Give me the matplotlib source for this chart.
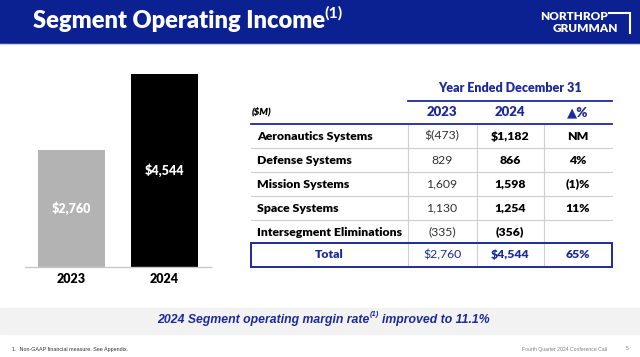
import matplotlib
matplotlib.use("Agg")
import matplotlib.pyplot as plt
from matplotlib.patches import Rectangle

# ---- data ----
bar_years = ["2023", "2024"]
bar_values = [2760, 4544]
bar_colors = ["#b3b3b3", "#000000"]

segments = ["Aeronautics Systems", "Defense Systems", "Mission Systems",
            "Space Systems", "Intersegment Eliminations"]
seg_2023 = [-473, 829, 1609, 1130, -335]
seg_2024 = [1182, 866, 1598, 1254, -356]
seg_pct = ["NM", "4%", "(1)%", "11%", ""]
total_2023 = 2760
total_2024 = 4544
total_pct = "65%"

BLUE = "#0b2191"
NAVY = "#1c2a9c"
FONT = ["Lato", "DejaVu Sans"]

W, H = 640, 357
fig = plt.figure(figsize=(W / 100, H / 100), dpi=100)
fig.patch.set_facecolor("white")

# full-figure axes in pixel coordinates for the slide decoration + table
bg = fig.add_axes([0, 0, 1, 1])
bg.set_xlim(0, W)
bg.set_ylim(H, 0)
bg.axis("off")

# header band
bg.add_patch(Rectangle((0, 0), W, 43, color=BLUE, zorder=1))
bg.plot([0, W], [43.5, 43.5], color="#d3d6e6", lw=1, zorder=1)
t = bg.text(33, 28.5, "Segment Operating Income", color="white", fontsize=17,
            fontweight="heavy", family=FONT, va="baseline", ha="left")
fig.canvas.draw()
bb = t.get_window_extent()
bg.text(bb.x1 - 1, 6, "(1)", color="white", fontsize=11.5, fontweight="bold",
        family=FONT, va="top", ha="left")

# logo
bg.text(608, 16, "NORTHROP", color="white", fontsize=8.5, fontweight="heavy",
        family=FONT, ha="right", va="center")
bg.text(618, 28, "GRUMMAN", color="white", fontsize=8.5, fontweight="heavy",
        family=FONT, ha="right", va="center")
bg.plot([609, 630, 630], [12.5, 12.5, 33], color="white", lw=1.5,
        solid_joinstyle="miter", zorder=5, clip_on=False)

# bottom message band
bg.add_patch(Rectangle((0, 308), W, 26, color="#f2f2f2", zorder=1))
MSG = dict(color=NAVY, fontweight="bold", style="italic",
           family="Liberation Sans", ha="left")
m = bg.text(157, 320, "2024 Segment operating margin rate", fontsize=8.8,
            va="center", **MSG)
fig.canvas.draw()
mb = m.get_window_extent()
s = bg.text(mb.x1 + 0.5, 315, "(1)", fontsize=5.5, va="center", **MSG)
fig.canvas.draw()
sb = s.get_window_extent()
bg.text(sb.x1 + 3, 320, "improved to 11.1%", fontsize=8.8, va="center", **MSG)

# footer
bg.text(12, 349, "1.  Non-GAAP financial measure. See Appendix.",
        color="#333333", fontsize=3.9, family="Liberation Sans",
        va="center", ha="left")
bg.text(607, 349, "Fourth Quarter 2024 Conference Call", color="#808080",
        fontsize=3.7, family="Liberation Sans", va="center", ha="right")
bg.text(627, 349, "5", color="#808080", fontsize=3.7,
        family="Liberation Sans", va="center", ha="center")

# ---- bar chart ----
base_px, ymax = 267, 5000
top_px = base_px - 193 * ymax / max(bar_values)
ax = fig.add_axes([25 / W, 1 - base_px / H, 186 / W, (base_px - top_px) / H])
x = range(len(bar_values))
ax.bar(x, bar_values, width=0.72, color=bar_colors)
ax.set_xlim(-0.5, 1.5)
ax.set_ylim(0, ymax)
for spine in ["top", "right", "left"]:
    ax.spines[spine].set_visible(False)
ax.spines["bottom"].set_color("#c8c8c8")
ax.spines["bottom"].set_linewidth(1)
ax.set_yticks([])
ax.set_xticks(list(x))
ax.set_xticklabels(bar_years, fontsize=9, fontweight="heavy", family=FONT)
ax.tick_params(axis="x", length=0, pad=4)
ax.patch.set_alpha(0)
for i, v in enumerate(bar_values):
    ax.text(i, v / 2, f"${v:,}", color="white", fontsize=9,
            fontweight="heavy", family=FONT, ha="center", va="center")

# ---- table ----
def fmt(v, dollar=False):
    s = f"{abs(v):,}"
    if v < 0:
        s = f"({s})"
    return ("$" + s) if dollar else s

col_left = 251
col_seps = [408, 477, 544]
col_right = 612
col_centers = [442, 510, 578]
row_y = [136, 160, 184, 208, 232]
row_lines = [148, 172, 196, 220]
header_y = 112
total_y = 255
FS = 8.8

bg.text(510, 88, "Year Ended December 31", color=NAVY, fontsize=9,
        fontweight="heavy", family=FONT, ha="center", va="center")
bg.plot([408, col_right], [101, 101], color=NAVY, lw=1.3)
bg.text(252, header_y, "($M)", color="black", fontsize=7, fontweight="heavy",
        style="italic", family=FONT, ha="left", va="center")
for cx, lab in zip(col_centers, ["2023", "2024", "\u25b2%"]):
    bg.text(cx, header_y, lab, color=NAVY, fontsize=9.5, fontweight="heavy",
            family=FONT, ha="center", va="center")
bg.plot([col_left, col_right], [124, 124], color=NAVY, lw=1.3)

for ly in row_lines:
    bg.plot([col_left, col_right], [ly, ly], color="#cfcfcf", lw=0.8)
for sx in col_seps:
    bg.plot([sx, sx], [124, 267], color="#cfcfcf", lw=0.8, zorder=1)

for i, name in enumerate(segments):
    y = row_y[i]
    bg.text(257, y, name, color="black", fontsize=FS, fontweight="heavy",
            family=FONT, ha="left", va="center")
    bg.text(col_centers[0], y, fmt(seg_2023[i], i == 0), color="#333333",
            fontsize=FS, family=FONT, ha="center", va="center")
    bg.text(col_centers[1], y, fmt(seg_2024[i], i == 0), color="black",
            fontsize=FS, fontweight="heavy", family=FONT, ha="center",
            va="center")
    bg.text(col_centers[2], y, seg_pct[i], color="black", fontsize=FS,
            fontweight="heavy", family=FONT, ha="center", va="center")

bg.add_patch(Rectangle((col_left, 243), col_right - col_left, 24,
                       fill=False, edgecolor=NAVY, lw=1.4, zorder=3))
bg.text(329, total_y, "Total", color=NAVY, fontsize=FS, fontweight="heavy",
        family=FONT, ha="center", va="center")
bg.text(col_centers[0], total_y, fmt(total_2023, True), color=NAVY,
        fontsize=FS, family=FONT, ha="center", va="center")
bg.text(col_centers[1], total_y, fmt(total_2024, True), color=NAVY,
        fontsize=FS, fontweight="heavy", family=FONT, ha="center", va="center")
bg.text(col_centers[2], total_y, total_pct, color=NAVY, fontsize=FS,
        fontweight="heavy", family=FONT, ha="center", va="center")

fig.savefig("out.png", dpi=100)
